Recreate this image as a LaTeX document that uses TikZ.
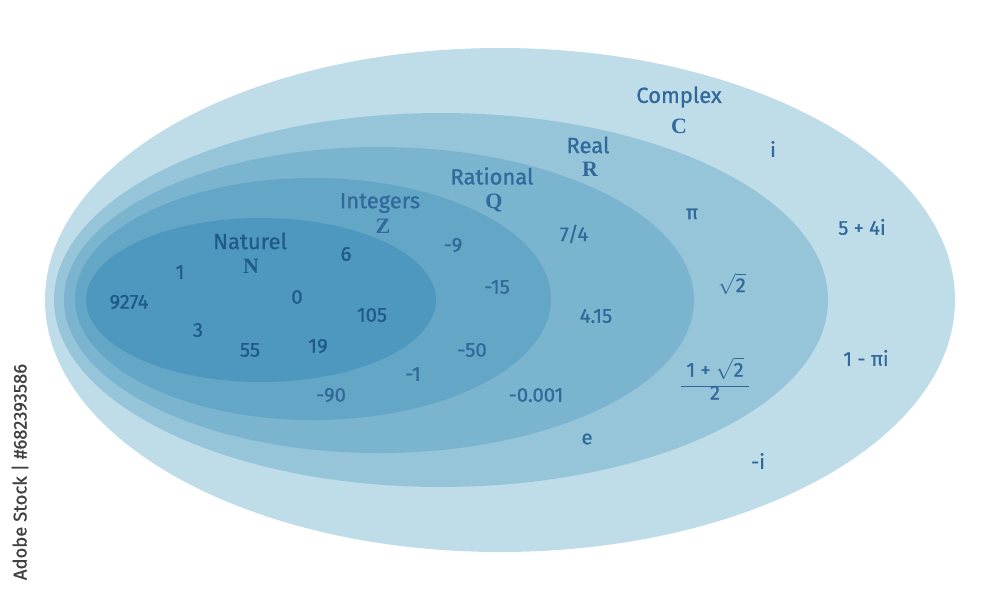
\documentclass[tikz,border=0pt]{standalone}
\usepackage{fontspec}
\setmainfont{Fira Sans}
\newfontfamily\numfont{Fira Sans}[FakeBold=0.9]
\newfontfamily\setsymfont{Liberation Serif}
\definecolor{complexblue}{HTML}{BFDDE8}
\definecolor{realblue}{HTML}{96C5DA}
\definecolor{ratblue}{HTML}{7AB4CF}
\definecolor{intblue}{HTML}{64A6C6}
\definecolor{natblue}{HTML}{4E98BF}
\definecolor{numblue}{HTML}{30699A}
\definecolor{natnum}{HTML}{1F5A88}
\tikzset{
  num/.style={text=numblue, font=\numfont\fontsize{11.5}{13}\selectfont, inner sep=1pt},
  setname/.style={text=numblue, font=\numfont\fontsize{12.5}{14}\selectfont, inner sep=0pt},
  setsym/.style={text=numblue, font=\setsymfont\bfseries\fontsize{12.5}{14}\selectfont, inner sep=0pt},
}
\begin{document}
\begin{tikzpicture}[x={(0.02cm,0cm)}, y={(0cm,-0.02cm)}]
  \useasboundingbox (0,0) rectangle (1000,599);
  % nested sets
  \fill[complexblue] (500,300) ellipse [x radius=455, y radius=252];
  \fill[realblue] (441,300) ellipse [x radius=387, y radius=187];
  \fill[ratblue] (379,300) ellipse [x radius=315, y radius=153];
  \fill[intblue] (313,299) ellipse [x radius=238, y radius=121];
  \fill[natblue] (261,300) ellipse [x radius=175, y radius=82];
  % set names
  \node[setname] (complex) at (679,97) {Complex};
  \node[setsym] (C) at (679,126) {C};
  \node[setname] (real) at (588,145) {Real};
  \node[setsym] (R) at (590,169) {R};
  \node[setname] (rational) at (492,176) {Rational};
  \node[setsym] (Q) at (494,203) {Q};
  \node[setname] (integers) at (380,203) {Integers};
  \node[setsym] (Z) at (383,226) {Z};
  \node[setname, text=natnum] (naturel) at (250,241) {Naturel};
  \node[setsym, text=natnum] (N) at (251,266) {N};
  % naturel
  \node[num, text=natnum] (n1) at (180,272) {1};
  \node[num, text=natnum] (n9274) at (129,302) {9274};
  \node[num, text=natnum] (n0) at (297,297) {0};
  \node[num, text=natnum] (n6) at (346,254) {6};
  \node[num, text=natnum] (n105) at (372,315) {105};
  \node[num, text=natnum] (n3) at (198,330) {3};
  \node[num, text=natnum] (n55) at (250,350) {55};
  \node[num, text=natnum] (n19) at (318,346) {19};
  % integers
  \node[num] (m9) at (453,245) {-9};
  \node[num] (m15) at (497,287) {-15};
  \node[num] (m50) at (472,350) {-50};
  \node[num] (m1) at (413,374) {-1};
  \node[num] (m90) at (331,395) {-90};
  % rational
  \node[num] (q74) at (574,234) {7/4};
  \node[num] (q415) at (596,316) {4.15};
  \node[num] (q0001) at (536,395) {-0.001};
  % real
  \node[num] (pi) at (692,214) {π};
  \node[num] (sq2) at (732,284) {$\sqrt{\mbox{2}}$};
  \node[num] (golden) at (715,382) {%
    \begin{tabular}{@{}c@{}}1 + $\sqrt{\mbox{2}}$\\[-7pt]\rule{1.35cm}{0.7pt}\\[-6pt]2\end{tabular}};
  \node[num] (e) at (587,439) {e};
  % complex
  \node[num] (i) at (773,149) {i};
  \node[num] (c54) at (862,227) {5 + 4i};
  \node[num] (c1pi) at (866,358) {1 - πi};
  \node[num] (mi) at (758,461) {-i};
  % side mark
  \node[rotate=90, text=black!75, font=\numfont\fontsize{10.5}{12}\selectfont] (mark) at (20,472) {Adobe Stock | \#682393586};
\end{tikzpicture}
\end{document}
